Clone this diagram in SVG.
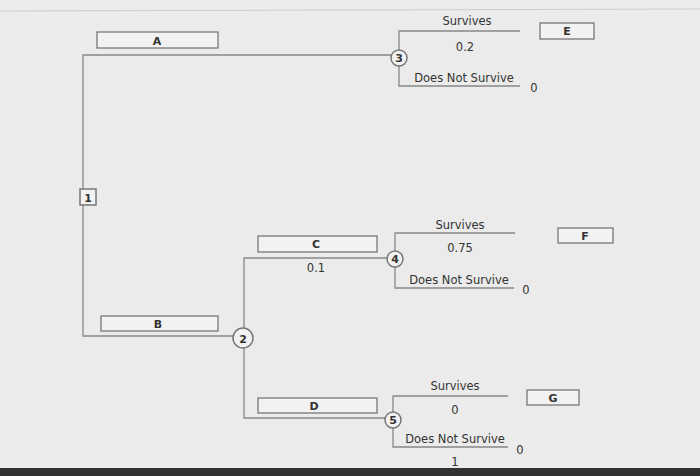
<svg xmlns="http://www.w3.org/2000/svg" width="700" height="476" viewBox="0 0 700 476">
<style>
text{font-family:"DejaVu Sans","Liberation Sans",sans-serif;font-size:11.5px;fill:#333;text-anchor:middle}
.b{font-weight:bold;font-size:11px}
.box{fill:#f2f2f2;stroke:#777;stroke-width:1.3}
.ln{fill:none;stroke:#888;stroke-width:1.3}
.ch{fill:#f2f2f2;stroke:#777;stroke-width:1.5}
</style>
<rect width="700" height="476" fill="#ebebeb"/>
<line x1="0" y1="11" x2="700" y2="9" stroke="#ccc"/>
<rect x="0" y="468" width="700" height="8" fill="#333"/>
<g id="connectors" class="ln">
<path d="M83 197 V55 H391"/>
<path d="M83 205 V336 H233"/>
<path d="M520 31 H399 V86 H520"/>
<path d="M244 328 V258 H387"/>
<path d="M244 348 V418 H385"/>
<path d="M515 233 H395 V288 H514"/>
<path d="M508 396 H393 V447 H508"/>
</g>
<g id="n1"><rect x="80" y="189" width="16" height="16" class="ch"/><text x="88" y="202" class="b">1</text></g>
<g id="n2"><circle cx="243" cy="338" r="10" class="ch"/><text x="243" y="343" class="b">2</text></g>
<g id="n3"><circle cx="399" cy="58" r="8" class="ch"/><text x="399" y="62" class="b">3</text></g>
<g id="n4"><circle cx="395" cy="259" r="8" class="ch"/><text x="395" y="263" class="b">4</text></g>
<g id="n5"><circle cx="393" cy="420" r="8" class="ch"/><text x="393" y="424" class="b">5</text></g>
<g id="A"><rect x="97" y="32" width="121" height="16" class="box"/><text x="157" y="45" class="b">A</text></g>
<g id="B"><rect x="101" y="316" width="117" height="15" class="box"/><text x="158" y="328" class="b">B</text></g>
<g id="C"><rect x="258" y="236" width="119" height="16" class="box"/><text x="316" y="248" class="b">C</text></g>
<g id="D"><rect x="258" y="398" width="119" height="15" class="box"/><text x="314" y="410" class="b">D</text></g>
<g id="E"><rect x="540" y="23" width="54" height="16" class="box"/><text x="567" y="35" class="b">E</text></g>
<g id="F"><rect x="558" y="228" width="55" height="15" class="box"/><text x="585" y="240" class="b">F</text></g>
<g id="G"><rect x="527" y="390" width="52" height="15" class="box"/><text x="553" y="402" class="b">G</text></g>
<g id="labels">
<text x="467" y="25">Survives</text><text x="465" y="51">0.2</text>
<text x="464" y="82">Does Not Survive</text><text x="534" y="92">0</text>
<text x="316" y="272">0.1</text>
<text x="460" y="229">Survives</text><text x="460" y="252">0.75</text>
<text x="459" y="284">Does Not Survive</text><text x="526" y="294">0</text>
<text x="455" y="390">Survives</text><text x="455" y="414">0</text>
<text x="455" y="443">Does Not Survive</text><text x="520" y="454">0</text>
<text x="455" y="466">1</text>
</g>
</svg>
